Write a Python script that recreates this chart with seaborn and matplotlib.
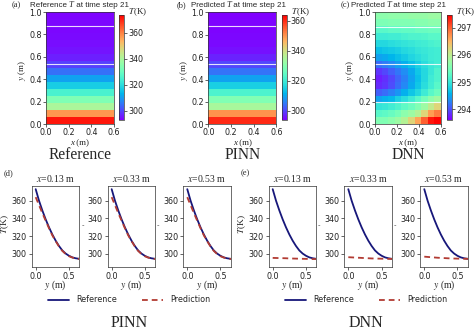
import numpy as np
import pandas as pd
import matplotlib
matplotlib.use("Agg")
import matplotlib.pyplot as plt
import seaborn as sns

# ---------------- data ----------------
# temperature per y-cell (bottom -> top), 16 rows, uniform in x
ref_T_rows = [371, 357, 340, 333, 325, 317, 311, 305, 300, 296.5, 295, 294.4, 294.1, 293.9, 293.8, 293.7]
pinn_T_rows = [360, 350, 334.5, 329, 322, 315, 309.5, 304.5, 300.3, 297, 295.5, 294.9, 294.6, 294.4, 294.3, 294.2]
# DNN prediction grid, rows bottom -> top, 10 columns x = 0 .. 0.6
dnn_T_grid = [
    [295.55, 295.55, 295.63, 295.75, 295.94, 296.25, 296.60, 297.00, 297.35, 297.45],
    [295.24, 295.28, 295.36, 295.47, 295.63, 295.75, 295.94, 296.25, 296.64, 296.85],
    [294.97, 295.00, 295.08, 295.16, 295.28, 295.39, 295.55, 295.75, 296.02, 296.25],
    [294.46, 294.54, 294.61, 294.77, 294.89, 295.04, 295.24, 295.43, 295.63, 295.78],
    [294.07, 294.15, 294.26, 294.38, 294.54, 294.69, 294.85, 295.04, 295.24, 295.39],
    [293.80, 293.87, 293.99, 294.15, 294.30, 294.50, 294.69, 294.89, 295.08, 295.24],
    [293.76, 293.83, 293.95, 294.11, 294.26, 294.46, 294.65, 294.85, 295.04, 295.16],
    [293.87, 293.95, 294.07, 294.19, 294.34, 294.50, 294.69, 294.85, 295.00, 295.16],
    [294.15, 294.22, 294.30, 294.42, 294.54, 294.65, 294.77, 294.89, 295.00, 295.08],
    [294.46, 294.50, 294.58, 294.65, 294.73, 294.81, 294.89, 294.97, 295.04, 295.08],
    [294.65, 294.69, 294.73, 294.77, 294.85, 294.89, 294.97, 295.00, 295.04, 295.08],
    [294.85, 294.85, 294.89, 294.93, 294.97, 295.00, 295.04, 295.08, 295.12, 295.16],
    [295.04, 295.04, 295.08, 295.08, 295.12, 295.16, 295.16, 295.20, 295.24, 295.24],
    [295.24, 295.24, 295.28, 295.28, 295.32, 295.32, 295.36, 295.36, 295.39, 295.39],
    [295.51, 295.51, 295.55, 295.55, 295.55, 295.55, 295.59, 295.59, 295.63, 295.63],
    [295.63, 295.63, 295.67, 295.67, 295.67, 295.71, 295.71, 295.71, 295.75, 295.75],
]
n_xcells = 10

# line profiles T(y)
y_line = [0.0, 0.05, 0.1, 0.15, 0.2, 0.25, 0.3, 0.35, 0.4, 0.45, 0.5, 0.55, 0.6, 0.65, 0.7]
ref_line = [373, 360, 349, 339, 330, 322, 315, 309, 304, 300.5, 298, 296.2, 295.2, 294.6, 294.2]
pinn_line = [364, 355, 346, 337.5, 329, 321, 314.5, 308.5, 303.5, 300, 297.5, 296, 295, 294.5, 294.1]
dnn_lines = [
    [295.6, 295.5, 295.4, 295.3, 295.2, 295.0, 294.9, 294.8, 294.7, 294.6, 294.5, 294.4, 294.3, 294.3, 294.2],
    [296.4, 296.2, 296.0, 295.8, 295.6, 295.4, 295.2, 295.0, 294.9, 294.8, 294.7, 294.6, 294.5, 294.5, 294.4],
    [297.0, 296.7, 296.4, 296.1, 295.8, 295.6, 295.4, 295.2, 295.0, 294.9, 294.8, 294.7, 294.6, 294.6, 294.5],
]
x_positions = ["0.13", "0.33", "0.53"]

heat_title_heads = ["Reference ", "Predicted ", "Predicted "]
heat_title_tail = " at time step 21"
heat_names = ["Reference", "PINN", "DNN"]
heat_ranges = [(293.1, 373.5), (294.0, 363.8), (293.6, 297.47)]
cbar_ticks = [[300, 320, 340, 360], [300, 320, 340, 360], [294, 295, 296, 297]]

# ---------------- style ----------------
sns.set_theme(style="ticks")
plt.rcParams["font.family"] = ["DejaVu Sans"]
plt.rcParams["mathtext.fontset"] = "stix"
SERIF = ["Liberation Serif", "DejaVu Serif"]
NARROW = ["Liberation Sans Narrow", "Liberation Sans", "DejaVu Sans"]
NAVY = "#17177a"
RED = "#b23b33"

W, H = 474, 333
fig = plt.figure(figsize=(W / 100, H / 100), dpi=100)
renderer = fig.canvas.get_renderer()


def box(l, t, r, b):
    return [l / W, 1 - b / H, (r - l) / W, (b - t) / H]


def ftxt(x, y, s, **kw):
    return fig.text(x / W, 1 - y / H, s, **kw)


def rich_text(xc, y_base, parts):
    """Place several text pieces side by side, centred on xc, on one baseline."""
    texts = [ftxt(0, y_base, s, ha="left", va="baseline", **kw) for s, kw in parts]
    widths = [t.get_window_extent(renderer).width for t in texts]
    x = xc - sum(widths) / 2
    for t, w in zip(texts, widths):
        t.set_x(x / W)
        x += w


# ---------------- heatmaps ----------------
heat_axes = [(46, 12, 114, 124), (208.3, 12.3, 276.3, 124.3), (375, 12, 441, 124)]
cbar_axes = [(119, 15, 124, 120), (281.7, 15, 286.7, 120), (447, 15, 452, 120)]
panel_lbl = [("(a)", 16), ("(b)", 181), ("(c)", 345.5)]
title_cx = [79, 238.5, 398.5]
ylab_x = [21.5, 184, 350]

grids = [
    np.repeat(np.array(ref_T_rows)[:, None], n_xcells, axis=1),
    np.repeat(np.array(pinn_T_rows)[:, None], n_xcells, axis=1),
    np.array(dnn_T_grid),
]
hlines = [[0.875, 0.536], [0.875, 0.536], [0.87, 0.535, 0.2]]

for i in range(3):
    ax = fig.add_axes(box(*heat_axes[i]))
    cax = fig.add_axes(box(*cbar_axes[i]))
    df = pd.DataFrame(grids[i])
    vmin, vmax = heat_ranges[i]
    sns.heatmap(df, ax=ax, cmap="rainbow", vmin=vmin, vmax=vmax, cbar_ax=cax,
                xticklabels=False, yticklabels=False,
                cbar_kws={"ticks": cbar_ticks[i]})
    nr, nc = df.shape
    ax.set_ylim(0, nr)
    ax.set_xlim(0, nc)
    ax.set_xticks(np.linspace(0, nc, 4))
    ax.set_xticklabels(["0.0", "0.2", "0.4", "0.6"], rotation=0)
    ax.set_yticks(np.linspace(0, nr, 6))
    ax.set_yticklabels(["0.0", "0.2", "0.4", "0.6", "0.8", "1.0"], rotation=0)
    ax.tick_params(labelsize=5.8, length=2, width=0.5, pad=1, colors="#222222")
    for sp in ax.spines.values():
        sp.set_visible(True)
        sp.set_linewidth(0.5)
        sp.set_color("#333333")
    for hy in hlines[i]:
        ax.axhline(hy * nr, color="white", lw=0.8, alpha=0.85)
    cb = ax.collections[0].colorbar
    cb.outline.set_linewidth(0.5)
    cb.outline.set_edgecolor("#333333")
    cax.tick_params(labelsize=5.8, length=2, width=0.5, pad=1, colors="#222222")
    ax.set_xlabel("")
    ax.set_ylabel("")
    # texts
    ftxt(panel_lbl[i][1], 7.2, panel_lbl[i][0], family=SERIF, fontsize=6, ha="center", va="baseline")
    rich_text(title_cx[i], 7.0, [
        (heat_title_heads[i], dict(family=NARROW, fontsize=5.8)),
        ("T", dict(family=SERIF, style="italic", fontsize=6.2)),
        (heat_title_tail, dict(family=NARROW, fontsize=5.8)),
    ])
    ftxt(cbar_axes[i][0] + 9, 12, "$T$(K)", family=SERIF, fontsize=6.5, ha="left", va="center")
    cxh = (heat_axes[i][0] + heat_axes[i][2]) / 2
    rich_text(cxh, 145.3, [
        ("x", dict(family=SERIF, style="italic", fontsize=6.5)),
        (" (m)", dict(family=SERIF, fontsize=6.5)),
    ])
    ftxt(ylab_x[i], 70, "$y$ (m)", family=SERIF, fontsize=6.5, ha="center", va="center", rotation=90)
    ftxt(cxh, 158.8, heat_names[i], family=SERIF, fontsize=11.2, ha="center", va="baseline")

# ---------------- line plots ----------------
line_axes = [
    [(31.7, 185.7, 79.3, 266.7), (107.7, 185.7, 155, 266.7), (183.3, 185.7, 230.7, 266.7)],
    [(268.7, 185.7, 316.3, 266.7), (344.3, 185.7, 392, 266.7), (420.3, 185.7, 467.7, 266.7)],
]
group_lbl = [("(d)", 8.5), ("(e)", 245.5)]
group_name = ["PINN", "DNN"]
legend_handles = None
for g in range(2):
    for j in range(3):
        ax = fig.add_axes(box(*line_axes[g][j]))
        pred = pinn_line if g == 0 else dnn_lines[j]
        sns.lineplot(x=y_line, y=ref_line, ax=ax, color=NAVY, lw=1.3, label="Reference")
        sns.lineplot(x=y_line, y=pred, ax=ax, color=RED, lw=1.3, linestyle=(0, (3.2, 2.2)), label="Prediction")
        if legend_handles is None:
            legend_handles = ax.get_legend_handles_labels()
        ax.get_legend().remove()
        ax.set_xlim(-0.06, 0.655)
        ax.set_ylim(285.7, 376.9)
        ax.set_xticks([0.0, 0.5])
        ax.set_xticklabels(["0.0", "0.5"])
        ax.set_yticks([300, 320, 340, 360])
        ax.tick_params(labelsize=5.8, length=2, width=0.5, pad=1.5, colors="#222222")
        for sp in ax.spines.values():
            sp.set_linewidth(0.5)
            sp.set_color("#333333")
        l, t, r, b = line_axes[g][j]
        ftxt((l + r) / 2, 178.5, f"$x$=0.{x_positions[j][2:]} m", family=SERIF, fontsize=7, ha="center", va="center")
        ftxt((l + r) / 2, 285, "$y$ (m)", family=SERIF, fontsize=7, ha="center", va="center")
        if j == 0:
            ftxt(l - 26.3, 224, "$T$(K)", family=SERIF, fontsize=6.8, ha="center", va="center", rotation=90)
        else:
            ftxt(l - 25, 225.5, "-", fontsize=5, ha="center", va="center", color="#444444")
    ftxt(group_lbl[g][1], 173, group_lbl[g][0], family=SERIF, fontsize=6, ha="center", va="center")
    cx = (line_axes[g][0][0] + line_axes[g][2][2]) / 2
    ftxt(cx - 2, 323, group_name[g], family=SERIF, fontsize=11.5, ha="center", va="center")
    fig.legend(*legend_handles, loc="center", bbox_to_anchor=((cx - 2) / W, 1 - 300 / H),
               ncol=2, frameon=False, fontsize=5.8, handlelength=2.6, columnspacing=3.2,
               handletextpad=0.9, borderaxespad=0)

fig.savefig("out.png", dpi=100, facecolor="white")
